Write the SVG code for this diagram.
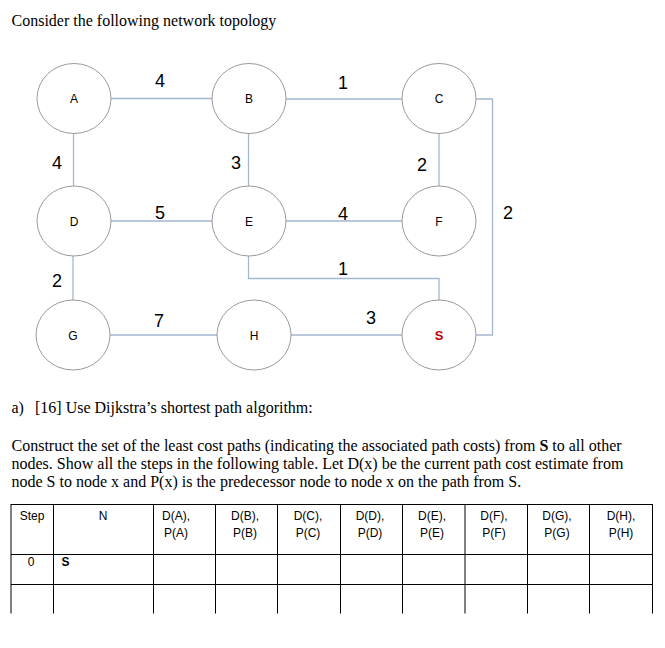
<svg xmlns="http://www.w3.org/2000/svg" width="665" height="648" viewBox="0 0 665 648">
<style>
.bg{fill:#ffffff}
.node{fill:#ffffff;stroke:#9a9a9a;stroke-width:1}
.edge{fill:none;stroke:#a3b6d2;stroke-width:1.3}
.nl{font-family:"Liberation Sans",Arial,sans-serif;font-size:12px;fill:#000;text-anchor:middle}
.w{font-family:"Liberation Sans",Arial,sans-serif;font-size:18px;fill:#000;text-anchor:middle}
.t{font-family:"Liberation Serif","Times New Roman",serif;font-size:16px;fill:#000}
.tl{fill:none;stroke:#000;stroke-width:1}
.th{font-family:"Liberation Sans",Arial,sans-serif;font-size:12px;fill:#000;text-anchor:middle}
</style>
<rect class="bg" x="0" y="0" width="665" height="648"/>
<text class="t" x="11.5" y="26">Consider the following network topology</text>

<g id="connectors">
  <line class="edge" x1="111" y1="98.5" x2="212" y2="98.5"/>
  <line class="edge" x1="286" y1="99" x2="402" y2="99"/>
  <line class="edge" x1="73.5" y1="133.5" x2="73.5" y2="186"/>
  <line class="edge" x1="248.5" y1="133.5" x2="248.5" y2="186"/>
  <line class="edge" x1="439" y1="133.5" x2="439" y2="186"/>
  <line class="edge" x1="111" y1="221" x2="212" y2="221"/>
  <line class="edge" x1="286" y1="221" x2="402" y2="221"/>
  <line class="edge" x1="73" y1="256" x2="73" y2="300"/>
  <polyline class="edge" points="248.5,256 248.5,278.5 439,278.5 439,300"/>
  <line class="edge" x1="110" y1="335" x2="217" y2="335"/>
  <line class="edge" x1="291" y1="335" x2="402" y2="335"/>
  <polyline class="edge" points="476,99 492.5,99 492.5,335 476,335"/>
  <text class="w" x="160" y="86.5">4</text>
  <text class="w" x="343" y="88.5">1</text>
  <text class="w" x="57" y="168.5">4</text>
  <text class="w" x="236" y="168.5">3</text>
  <text class="w" x="422" y="170.5">2</text>
  <text class="w" x="160" y="218.5">5</text>
  <text class="w" x="343" y="219.5">4</text>
  <text class="w" x="508" y="218.5">2</text>
  <text class="w" x="57" y="286.5">2</text>
  <text class="w" x="343" y="274.5">1</text>
  <text class="w" x="159" y="326.5">7</text>
  <text class="w" x="371" y="323.5">3</text>
</g>

<g id="node-A"><ellipse class="node" cx="74" cy="98.5" rx="37" ry="35"/><text class="nl" x="74" y="103">A</text></g>
<g id="node-B"><ellipse class="node" cx="249" cy="98.5" rx="37" ry="35"/><text class="nl" x="249" y="103">B</text></g>
<g id="node-C"><ellipse class="node" cx="439" cy="98.5" rx="37" ry="35"/><text class="nl" x="439" y="103">C</text></g>
<g id="node-D"><ellipse class="node" cx="74" cy="221" rx="37" ry="35"/><text class="nl" x="74" y="225.5">D</text></g>
<g id="node-E"><ellipse class="node" cx="249" cy="221" rx="37" ry="35"/><text class="nl" x="249" y="225.5">E</text></g>
<g id="node-F"><ellipse class="node" cx="439" cy="221" rx="37" ry="35"/><text class="nl" x="439" y="225.5">F</text></g>
<g id="node-G"><ellipse class="node" cx="73" cy="335" rx="37" ry="35"/><text class="nl" x="73" y="339.5">G</text></g>
<g id="node-H"><ellipse class="node" cx="254" cy="335" rx="37" ry="35"/><text class="nl" x="254" y="339.5">H</text></g>
<g id="node-S"><ellipse class="node" cx="439" cy="335" rx="37" ry="35"/><text class="nl" x="439" y="340" style="fill:#c00000;font-weight:bold;font-size:13px">S</text></g>

<text class="t" x="11.5" y="413">a)</text>
<text class="t" x="35" y="413">[16] Use Dijkstra’s shortest path algorithm:</text>
<text class="t" x="11.5" y="451">Construct the set of the least cost paths (indicating the associated path costs) from <tspan font-weight="bold">S</tspan> to all other</text>
<text class="t" x="11.5" y="469">nodes. Show all the steps in the following table. Let D(x) be the current path cost estimate from</text>
<text class="t" x="11.5" y="487">node S to node x and P(x) is the predecessor node to node x on the path from S.</text>

<g id="table">
  <line class="tl" x1="11" y1="504.5" x2="652.5" y2="504.5"/>
  <line class="tl" x1="11" y1="554.5" x2="652.5" y2="554.5"/>
  <line class="tl" x1="11" y1="584.5" x2="652.5" y2="584.5"/>
  <line class="tl" x1="11" y1="504" x2="11" y2="613.5"/>
  <line class="tl" x1="53.5" y1="504" x2="53.5" y2="613.5"/>
  <line class="tl" x1="153.5" y1="504" x2="153.5" y2="613.5"/>
  <line class="tl" x1="215.5" y1="504" x2="215.5" y2="613.5"/>
  <line class="tl" x1="277.5" y1="504" x2="277.5" y2="613.5"/>
  <line class="tl" x1="340.5" y1="504" x2="340.5" y2="613.5"/>
  <line class="tl" x1="402.5" y1="504" x2="402.5" y2="613.5"/>
  <line class="tl" x1="465" y1="504" x2="465" y2="613.5"/>
  <line class="tl" x1="527.5" y1="504" x2="527.5" y2="613.5"/>
  <line class="tl" x1="589.5" y1="504" x2="589.5" y2="613.5"/>
  <line class="tl" x1="652.5" y1="504" x2="652.5" y2="613.5"/>
  <text class="th" x="32" y="520">Step</text>
  <text class="th" x="103" y="520">N</text>
  <text class="th" x="176" y="520">D(A),</text><text class="th" x="176" y="537">P(A)</text>
  <text class="th" x="245" y="520">D(B),</text><text class="th" x="245" y="537">P(B)</text>
  <text class="th" x="308" y="520">D(C),</text><text class="th" x="308" y="537">P(C)</text>
  <text class="th" x="370" y="520">D(D),</text><text class="th" x="370" y="537">P(D)</text>
  <text class="th" x="432" y="520">D(E),</text><text class="th" x="432" y="537">P(E)</text>
  <text class="th" x="494" y="520">D(F),</text><text class="th" x="494" y="537">P(F)</text>
  <text class="th" x="557" y="520">D(G),</text><text class="th" x="557" y="537">P(G)</text>
  <text class="th" x="621" y="520">D(H),</text><text class="th" x="621" y="537">P(H)</text>
  <text class="th" x="31" y="566">0</text>
  <text class="th" x="61.5" y="566" style="text-anchor:start;font-weight:bold">S</text>
</g>
</svg>
